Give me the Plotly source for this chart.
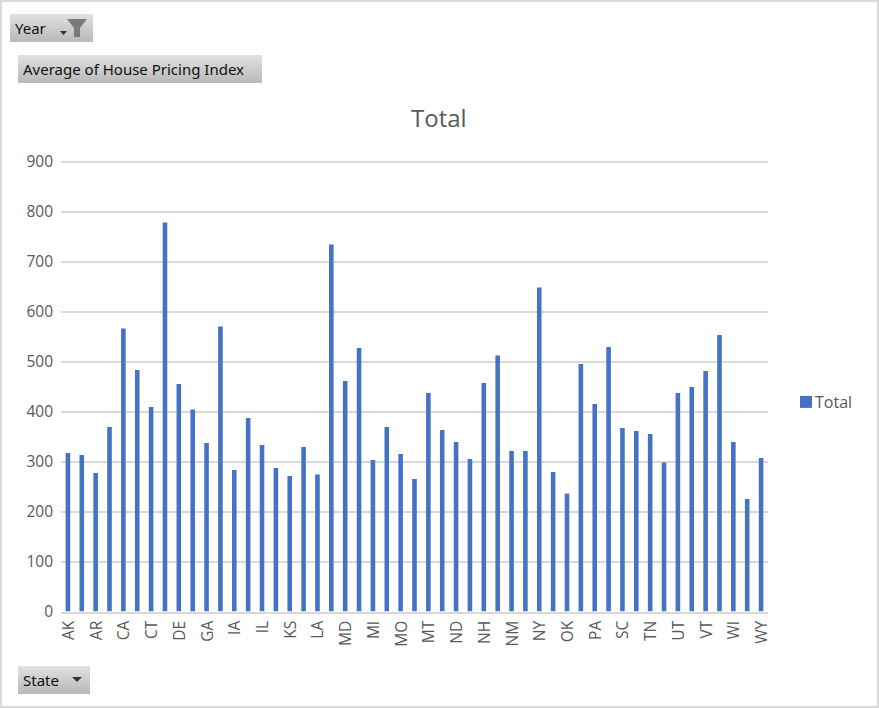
import plotly.graph_objects as go

W, H = 879, 708

states = ["AK","AL","AR","AZ","CA","CO","CT","DC","DE","FL","GA","HI","IA","ID","IL","IN","KS",
          "KY","LA","MA","MD","ME","MI","MN","MO","MS","MT","NC","ND","NE","NH","NJ","NM","NV",
          "NY","OH","OK","OR","PA","RI","SC","SD","TN","TX","UT","VA","VT","WA","WI","WV","WY"]
values = [317,313,277,369,566,483,409,778,455,404,337,570,283,387,333,287,271,
          329,274,734,461,527,303,369,315,265,437,363,339,305,457,512,321,321,
          648,279,236,495,415,529,367,361,355,298,437,449,481,553,339,225,307]
y_ticks = [0,100,200,300,400,500,600,700,800,900]
series_name = "Total"
chart_title = "Total"

BLUE = "#4472C4"
GRID = "#D9D9D9"
TEXT = "#595959"
FONT = "Open Sans, Noto Sans, sans-serif"
BTN_FONT = "Noto Sans, sans-serif"

def px(x): return x / W
def py(y): return 1 - y / H

shapes = []
annotations = []

def button(x0, y0, x1, y1, label):
    n = y1 - y0
    for i in range(n):
        t = i / max(n - 1, 1)
        c = int(225 - (225 - 186) * t)
        shapes.append(dict(type="rect", xref="paper", yref="paper",
                           x0=px(x0), x1=px(x1), y0=py(y0 + i + 1), y1=py(y0 + i),
                           fillcolor=f"rgb({c},{c},{c})", line_width=0, layer="below"))
    annotations.append(dict(text=label, xref="paper", yref="paper", showarrow=False,
                            x=px(x0 + 3), y=py((y0 + y1) / 2), xanchor="left", yanchor="middle",
                            font=dict(family=BTN_FONT, size=15, color="#101010")))

def path_shape(points, color):
    d = "M " + " L ".join(f"{px(a):.5f},{py(b):.5f}" for a, b in points) + " Z"
    shapes.append(dict(type="path", xref="paper", yref="paper", path=d,
                       fillcolor=color, line_width=0))

button(10, 14, 93, 42, "Year")
button(18, 55, 262, 83, "Average of House Pricing Index")
button(18, 666, 90, 694, "State")

# dropdown arrows and filter icon
path_shape([(60, 31), (67, 31), (63.5, 35)], "#333333")
path_shape([(72, 677), (82, 677), (77, 682)], "#333333")
path_shape([(67, 19), (87, 19), (80, 28), (80, 37), (74, 37), (74, 28)], "#7A7A7A")

# outer frame
shapes.append(dict(type="rect", xref="paper", yref="paper", x0=px(1), x1=px(W - 1),
                   y0=py(H - 1), y1=py(1), line=dict(color="#D9D9D9", width=2),
                   fillcolor="rgba(0,0,0,0)", layer="below"))

annotations.append(dict(text=chart_title, xref="paper", yref="paper", showarrow=False,
                        x=px(439), y=py(118), xanchor="center", yanchor="middle",
                        font=dict(family=FONT, size=24, color=TEXT)))

fig = go.Figure(go.Bar(x=states, y=values, name=series_name, marker_color=BLUE,
                       marker_line_width=0, showlegend=True))

fig.update_layout(
    width=W, height=H, autosize=False,
    margin=dict(l=0, r=0, t=0, b=0, autoexpand=False),
    paper_bgcolor="white", plot_bgcolor="white",
    bargap=0.67,
    font=dict(family=FONT, color=TEXT),
    shapes=shapes, annotations=annotations,
    legend=dict(x=px(775), y=py(402), xanchor="left", yanchor="middle",
                font=dict(family=FONT, size=16, color=TEXT), itemsizing="constant",
                itemwidth=30, bgcolor="rgba(0,0,0,0)"),
    xaxis=dict(domain=[px(61), px(768)], type="category", categoryorder="array",
               categoryarray=states, tickmode="array", tickvals=states[::2], ticktext=states[::2],
               tickangle=-90, showgrid=False, ticks="", showline=True, linecolor=GRID, linewidth=2,
               ticklabelstandoff=1, ticklabelshift=1,
               tickfont=dict(family=FONT, size=15.5, color=TEXT)),
    # range tops out just above 900 so the 900 gridline is not clipped at the plot edge
    yaxis=dict(domain=[py(611.6), py(160)], range=[0, 903], tickmode="array", tickvals=y_ticks,
               showgrid=True, gridcolor=GRID, gridwidth=2, zeroline=False, ticks="",
               ticklabelstandoff=7,
               tickfont=dict(family=FONT, size=15.5, color=TEXT)),
)

fig.write_html("out.html", config=dict(displayModeBar=False),
               post_script=("document.body.style.margin='0';"
                            "document.querySelectorAll('.legendpoints').forEach("
                            "function(g){g.setAttribute('transform','translate(11,0)');});"))
